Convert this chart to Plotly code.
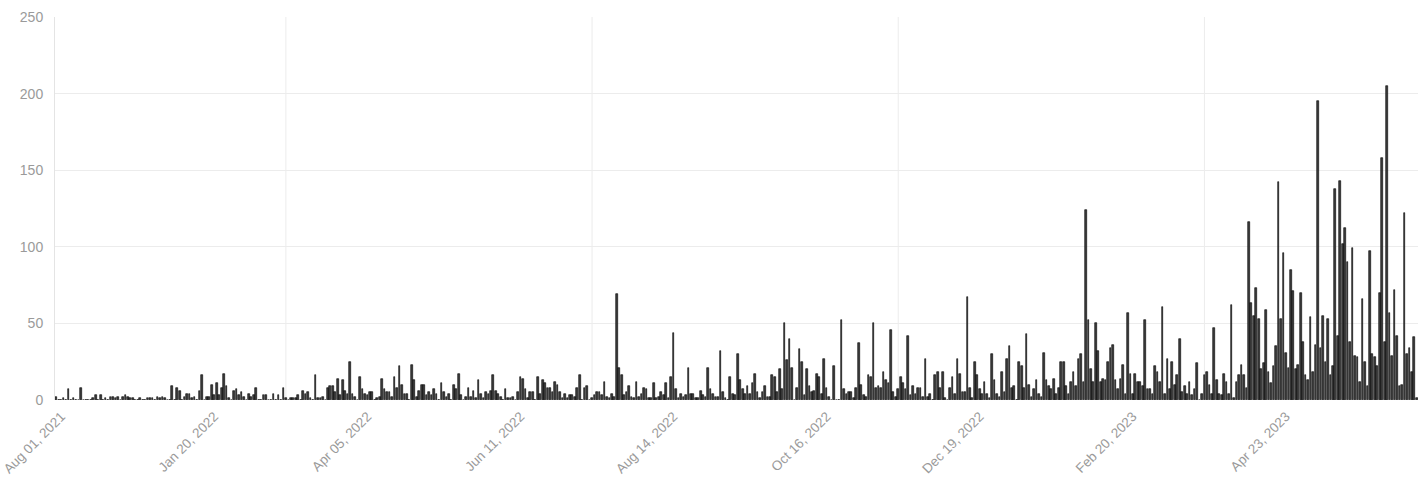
import plotly.graph_objects as go

seg01 = [2,0,0,1,0,7,0,1,0,0,8,0,0,0,0,1,3,0,3,0,1,0,2,2,1,2,0,2,3,2,1,1,0,0,1,0,0,1,1,1,0,2,1,2,1]
seg02 = [0,0,9,0,8,6,0,2,4,4,1,2,0,6,16,0,2,2,10,3,11,3,8,17,9,1,0,6,7,3,5,2,0,4,2,3,8,0,0,3,3,0,0,4,0,3]
seg03 = [0,8,1,0,1,1,1,3,0,6,4,5,1,0,16,1,1,2,0,8,9,9,5,14,3,13,6,4,25,4,2,0,15,7,4,3,5,5,0,1,2,14,7,5,5,2]
seg04 = [15,8,22,10,4,4,0,23,13,2,6,10,10,3,5,3,7,4,0,11,5,2,4,0,10,7,17,3,0,2,8,2,6,1,13,4,1,5,4,6,16,6,4,2,0,7,1]
seg05 = [1,2,0,5,15,14,7,1,5,5,0,15,4,13,11,8,8,5,12,10,5,1,4,1,3,3,2,8,16,0,8,9,0,1,3,5,5,3,12,2,1,4,2,69,21,16]
seg06 = [3,5,9,2,1,12,2,4,8,7,1,1,11,1,2,5,3,11,1,15,44,7,1,4,2,3,21,4,4,1,1,6,3,2,21,7,4,2,2,32,5,1,0,15,4,3]
seg07 = [30,13,7,4,9,4,11,17,5,1,5,9,2,2,16,15,5,20,7,50,26,40,21,0,8,33,25,3,20,9,5,6,17,15,4,27,8,2,0,22,0,0,52,7,4,5]
seg08 = [5,1,8,37,10,3,2,16,15,50,8,9,8,18,13,11,46,5,2,7,15,11,7,42,3,9,4,8,8,2,27,2,4,0,16,18,8,18,1,0,8,15,4,27,17,5]
seg09 = [5,67,8,1,25,16,7,4,12,4,1,30,13,4,2,18,5,27,35,8,9,0,25,22,8,43,10,2,7,13,4,2,31,13,9,7,14,4,8,25,25,9,4,12,18,9,27]
seg10 = [30,12,124,52,20,12,50,32,12,14,13,25,34,36,13,7,14,23,4,57,17,4,17,12,12,9,52,7,7,4,22,18,12,61,4,27,7,25,10,16,40,5,9,4,12,3]
seg11 = [7,24,0,4,16,18,10,4,47,13,4,3,17,12,4,62,1,12,16,23,16,8,116,63,55,73,53,20,24,59,18,11,22,35,142,53,96,31,21,85,71,20,23,70,38,16]
seg12 = [13,54,18,36,195,34,55,25,53,16,22,138,42,143,102,112,90,38,99,29,28,12,66,25,9,97,30,28,22,70,158,38,205,57,29,72,42,9,10,122,30,34,18,41,1]

tick_labels = ["Aug 01, 2021", "Jan 20, 2022", "Apr 05, 2022", "Jun 11, 2022",
               "Aug 14, 2022", "Oct 16, 2022", "Dec 19, 2022", "Feb 20, 2023", "Apr 23, 2023"]
label_step = 62
grid_idx = [93, 217, 341, 465]

values = (seg01 + seg02 + seg03 + seg04 + seg05 + seg06 + seg07 + seg08
          + seg09 + seg10 + seg11 + seg12)
n = len(values)
xs = list(range(n))
tick_vals = [i * label_step for i in range(len(tick_labels))]

fig = go.Figure()
fig.add_trace(go.Bar(
    x=xs, y=values, width=0.68,
    marker=dict(color="#3c3c3c", line=dict(color="#000000", width=0.6)),
    hoverinfo="y",
))

shapes = []
for g in grid_idx:
    shapes.append(dict(type="line", xref="x", yref="paper", x0=g, x1=g, y0=0, y1=1,
                       line=dict(color="#ececec", width=1), layer="below"))

fig.update_layout(
    width=1422, height=495,
    margin=dict(l=55, r=4, t=17, b=95, autoexpand=False),
    paper_bgcolor="white", plot_bgcolor="white",
    showlegend=False, bargap=0,
    shapes=shapes,
    font=dict(family="Liberation Sans, Arial, sans-serif", color="#999999", size=14),
    xaxis=dict(
        range=[-0.5, n - 0.5], tickmode="array", tickvals=tick_vals, ticktext=tick_labels,
        tickangle=-45, showgrid=False, zeroline=False, showline=False,
        ticks="", automargin=False, ticklabeloverflow="allow",
        ticklabelshift=5, ticklabelstandoff=5,
        tickfont=dict(size=13.5, color="#9a9a9a"),
    ),
    yaxis=dict(
        range=[0, 250], tickmode="array", tickvals=[0, 50, 100, 150, 200, 250],
        showgrid=True, gridcolor="#ececec", gridwidth=1, zeroline=False,
        showline=True, linecolor="#e4e4e4", linewidth=1, ticks="", automargin=False,
        ticklabelstandoff=8, tickfont=dict(size=14, color="#9a9a9a"),
    ),
)

fig.write_html("out.html", config={"displayModeBar": False},
               post_script="document.body.style.margin='0px';")
